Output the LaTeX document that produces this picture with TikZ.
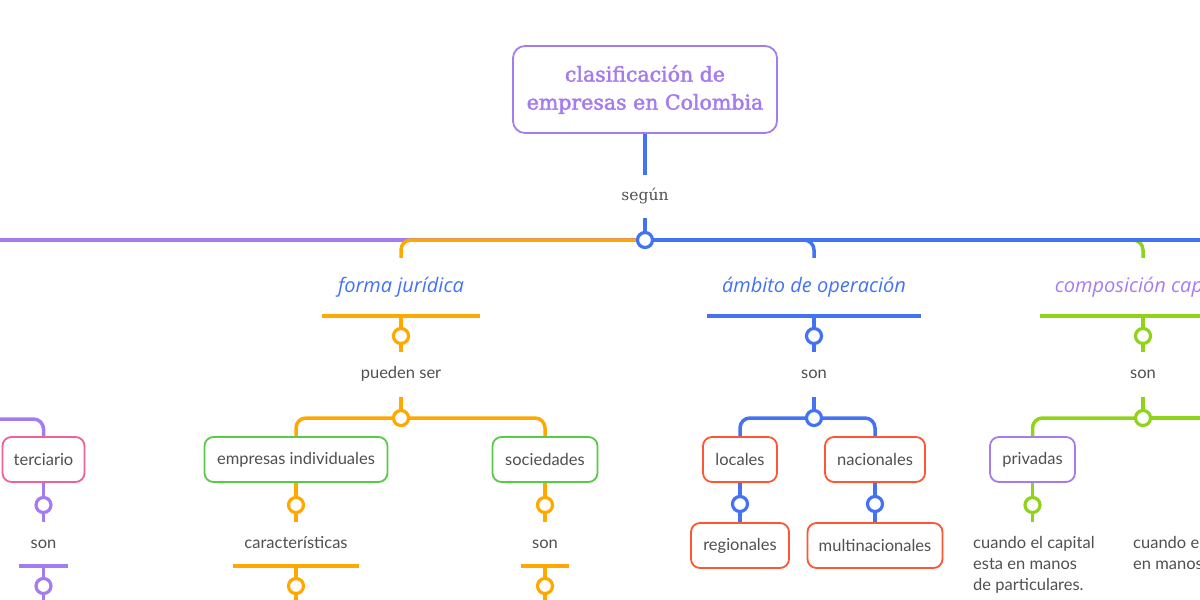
\documentclass[tikz,border=0pt]{standalone}
\usepackage{fontspec}
\setmainfont{Lato}
\newfontfamily\titlefont[FakeBold=2.2]{DejaVu Serif}
\newfontfamily\serifplain{DejaVu Serif}
\newfontfamily\handfont{Open Sans}
\definecolor{cpurple}{HTML}{A57CF0}
\definecolor{cblue}{HTML}{4372F2}
\definecolor{corange}{HTML}{FFA800}
\definecolor{cgreen}{HTML}{55CC44}
\definecolor{cred}{HTML}{FF5533}
\definecolor{cpink}{HTML}{F0609A}
\definecolor{clime}{HTML}{8FD41A}
\definecolor{cgray}{HTML}{505050}
\begin{document}
\begin{tikzpicture}[x=1pt,y=-1pt,
  conn/.style={line width=3.5pt},
  elbow/.style={line width=3.5pt, rounded corners=10pt},
  dot/.style={circle, draw, fill=white, line width=3.2pt, minimum size=15pt, inner sep=0pt},
  box/.style={draw, rounded corners=9pt, line width=1.8pt, fill=white, minimum height=45pt, inner sep=0pt, font=\fontsize{16.5}{19}\selectfont, text=cgray},
  lbl/.style={minimum height=44pt, inner sep=0pt, text height=11pt, text depth=3pt, font=\fontsize{16.5}{19}\selectfont, text=cgray},
  cat/.style={minimum height=58pt, inner sep=0pt, font=\handfont\itshape\fontsize{20}{23}\selectfont},
  para/.style={anchor=north west, align=left, inner sep=0pt, font=\fontsize{16.5}{21}\selectfont, text=cgray}]
\useasboundingbox (0,0) rectangle (1200,600);
\clip (0,0) rectangle (1200,600);

% root
\node[draw=cpurple, rounded corners=12pt, line width=1.8pt, minimum width=264pt, minimum height=87pt, align=center, text=cpurple, font=\titlefont\fontsize{20.5}{28}\selectfont] (title) at (645,89.5) {clasificación de\\empresas en Colombia};
\node[lbl, font=\serifplain\fontsize{15.5}{18}\selectfont, minimum height=43pt] (seg) at (645,196.5) {según};
\coordinate (c0) at (645,240);
\coordinate (eL) at (-20,240);
\coordinate (eR) at (1220,240);

% categories
\node[cat, text=cblue, minimum width=157pt] (forma) at (401,287) {forma jurídica};
\node[cat, text=cblue, minimum width=214pt] (ambito) at (814,287) {ámbito de operación};
\node[cat, text=cpurple, minimum width=206pt] (compo) at (1143,287) {composición capital};

% forma juridica subtree
\coordinate (c1) at (401,336);
\node[lbl] (pueden) at (401,374.5) {pueden ser};
\coordinate (c2) at (401,418);
\node[box, draw=cgreen, minimum width=183pt] (empind) at (296,459.5) {empresas individuales};
\node[box, draw=cgreen, minimum width=105pt] (soc) at (545,459.5) {sociedades};
\coordinate (c3) at (296,505);
\node[lbl, minimum width=125pt] (carac) at (296,544) {características};
\coordinate (c4) at (296,586);
\coordinate (e4) at (296,620);
\coordinate (c5) at (545,505);
\node[lbl, minimum width=48pt] (sonS) at (545,544) {son};
\coordinate (c6) at (545,586);
\coordinate (e6) at (545,620);

% terciario subtree
\coordinate (lL) at (-20,419);
\node[box, draw=cpink, minimum width=82pt] (terc) at (43.5,459.5) {terciario};
\coordinate (c7) at (43.5,505);
\node[lbl, minimum width=48pt] (sonT) at (43.5,544) {son};
\coordinate (c8) at (43.5,586);
\coordinate (e8) at (43.5,620);

% ambito subtree
\coordinate (c9) at (814,336);
\node[lbl] (sonA) at (814,374.5) {son};
\coordinate (c10) at (814,418);
\node[box, draw=cred, minimum width=74pt] (loc) at (740,459.5) {locales};
\node[box, draw=cred, minimum width=100pt] (nac) at (875,459.5) {nacionales};
\node[box, draw=cred, minimum width=98pt] (reg) at (740,545.5) {regionales};
\node[box, draw=cred, minimum width=135pt] (mult) at (875,545.5) {multinacionales};
\coordinate (c11) at (740,504);
\coordinate (c12) at (875,504);

% composicion subtree
\coordinate (c13) at (1143,336);
\node[lbl] (sonC) at (1143,374.5) {son};
\coordinate (c14) at (1143,418);
\coordinate (e14) at (1220,418);
\node[box, draw=cpurple, minimum width=85pt] (priv) at (1032.5,459.5) {privadas};
\coordinate (c15) at (1032.5,505);
\coordinate (e15) at (1032.5,522);
\node[para] (txtP) at (973,536) {cuando el capital\\esta en manos\\de particulares.};
\node[para] (txtQ) at (1133,536) {cuando el\\en manos del};

% connectors
\draw[conn, cblue] (title.south) -- (seg.north);
\draw[conn, cblue] (seg.south) -- (c0);
\draw[conn, cpurple] (c0) -- (eL);
\draw[elbow, clime] (c0) -| (compo.north);
\draw[conn, cblue] (c0) -- (eR);
\draw[elbow, cblue] (c0) -| (ambito.north);
\draw[elbow, corange] (c0) -| (forma.north);

\draw[conn, corange] (forma.south west) -- (forma.south east);
\draw[conn, corange] (forma.south) -- (pueden.north);
\draw[conn, corange] (pueden.south) -- (c2);
\draw[elbow, corange] (c2) -| (empind.north);
\draw[elbow, corange] (c2) -| (soc.north);
\draw[conn, corange] (empind.south) -- (carac.north);
\draw[conn, corange] (carac.south west) -- (carac.south east);
\draw[conn, corange] (carac.south) -- (e4);
\draw[conn, corange] (soc.south) -- (sonS.north);
\draw[conn, corange] (sonS.south west) -- (sonS.south east);
\draw[conn, corange] (sonS.south) -- (e6);

\draw[elbow, cpurple] (lL) -| (terc.north);
\draw[conn, cpurple] (terc.south) -- (sonT.north);
\draw[conn, cpurple] (sonT.south west) -- (sonT.south east);
\draw[conn, cpurple] (sonT.south) -- (e8);

\draw[conn, cblue] (ambito.south west) -- (ambito.south east);
\draw[conn, cblue] (ambito.south) -- (sonA.north);
\draw[conn, cblue] (sonA.south) -- (c10);
\draw[elbow, cblue] (c10) -| (loc.north);
\draw[elbow, cblue] (c10) -| (nac.north);
\draw[conn, cblue] (loc.south) -- (reg.north);
\draw[conn, cblue] (nac.south) -- (mult.north);

\draw[conn, clime] (compo.south west) -- (compo.south east);
\draw[conn, clime] (compo.south) -- (sonC.north);
\draw[conn, clime] (sonC.south) -- (c14);
\draw[conn, clime] (c14) -- (e14);
\draw[elbow, clime] (c14) -| (priv.north);
\draw[conn, clime] (priv.south) -- (e15);

% junction dots
\node[dot, draw=cblue] at (c0) {};
\node[dot, draw=corange] at (c1) {};
\node[dot, draw=corange] at (c2) {};
\node[dot, draw=corange] at (c3) {};
\node[dot, draw=corange] at (c4) {};
\node[dot, draw=corange] at (c5) {};
\node[dot, draw=corange] at (c6) {};
\node[dot, draw=cpurple] at (c7) {};
\node[dot, draw=cpurple] at (c8) {};
\node[dot, draw=cblue] at (c9) {};
\node[dot, draw=cblue] at (c10) {};
\node[dot, draw=cblue] at (c11) {};
\node[dot, draw=cblue] at (c12) {};
\node[dot, draw=clime] at (c13) {};
\node[dot, draw=clime] at (c14) {};
\node[dot, draw=clime] at (c15) {};
\end{tikzpicture}
\end{document}
